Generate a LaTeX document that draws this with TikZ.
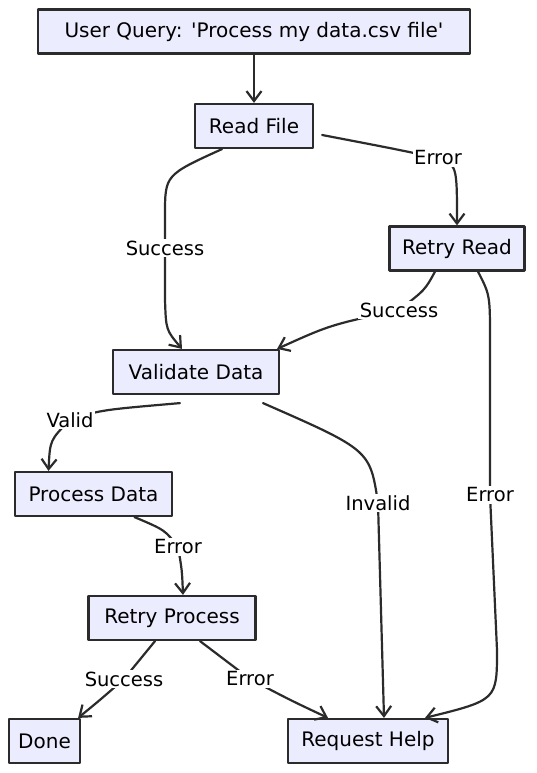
\documentclass[tikz,border=0pt]{standalone}
\usepackage{fontspec}
\setmainfont{DejaVu Sans}
\usetikzlibrary{arrows.meta}
\definecolor{boxfill}{HTML}{ECECFF}
\definecolor{ink}{HTML}{2B2B2B}
\newcommand{\sq}{\textquotesingle}
\begin{document}
\begin{tikzpicture}[line cap=round,line join=round,>={Straight Barb[length=10pt,width=15pt]},x=1pt,y=-1pt,
  box/.style={draw=ink,fill=boxfill,line width=2.2pt,minimum height=44pt,font=\fontsize{20}{23}\selectfont},
  lbl/.style={fill=white,inner sep=1.5pt,font=\fontsize{19.5}{22}\selectfont},
  link/.style={->,draw=ink,line width=2.2pt}]
\useasboundingbox (0,0) rectangle (536,773);
% boxes
\node[box,minimum width=432pt] (query) at (254,31.5) {User Query: \sq Process my data.csv file\sq};
\node[box,minimum width=118pt] (readfile) at (254,126) {Read File};
\node[box,minimum width=135pt] (retryread) at (457,248.5) {Retry Read};
\node[box,minimum width=166pt] (validate) at (196,372) {Validate Data};
\node[box,minimum width=157pt] (process) at (93.5,494) {Process Data};
\node[box,minimum width=167pt] (retryproc) at (172,618) {Retry Process};
\node[box,minimum width=71pt] (done) at (44.5,741) {Done};
\node[box,minimum width=160pt] (reqhelp) at (368,741) {Request Help};
% label spots
\coordinate (errA) at (438,158);
\coordinate (sucA) at (165,248);
\coordinate (sucB) at (399,310);
\coordinate (errB) at (490,495);
\coordinate (valid) at (70,420);
\coordinate (invalid) at (378,503);
\coordinate (errC) at (178,547);
\coordinate (sucC) at (124,679);
\coordinate (errD) at (250,679);
% links
\draw[link] (query) -- (readfile);
\draw[link] ([xshift=8pt,yshift=-9pt]readfile.east) .. controls (390,148) .. (errA)
  .. controls (457,165) .. (retryread.north);
\draw[link] ([xshift=-32pt]readfile.south) .. controls (165,175) .. (165,215) -- (sucA)
  -- (165,300) .. controls (166,330) .. ([xshift=-14pt]validate.north);
\draw[link] ([xshift=-22pt]retryread.south) .. controls (425,290) .. (sucB)
  .. controls (330,325) .. ([xshift=-3pt]validate.north east);
\draw[link] ([xshift=21pt]retryread.south) .. controls (490,295) .. (490,340) -- (errB)
  -- (497,650) .. controls (497,700) .. ([xshift=57pt]reqhelp.north);
\draw[link] ([xshift=-16pt,yshift=-8pt]validate.south) .. controls (100,410) .. (valid)
  .. controls (50,440) .. ([xshift=-45pt]process.north);
\draw[link] ([xshift=67pt,yshift=-8pt]validate.south) .. controls (370,450) .. (invalid)
  -- ([xshift=16pt]reqhelp.north);
\draw[link] ([xshift=41pt]process.south) .. controls (165,530) .. (errC)
  .. controls (182,570) .. ([xshift=11pt]retryproc.north);
\draw[link] ([xshift=-17pt]retryproc.south) .. controls (140,660) .. (sucC)
  .. controls (100,700) .. ([xshift=-3pt]done.north east);
\draw[link] ([xshift=28pt]retryproc.south) .. controls (225,660) .. (errD)
  .. controls (290,700) .. ([xshift=-40pt]reqhelp.north);
% labels
\node[lbl] at (errA) {Error};
\node[lbl] at (sucA) {Success};
\node[lbl] at (sucB) {Success};
\node[lbl] at (errB) {Error};
\node[lbl] at (valid) {Valid};
\node[lbl] at (invalid) {Invalid};
\node[lbl] at (errC) {Error};
\node[lbl] at (sucC) {Success};
\node[lbl] at (errD) {Error};
\end{tikzpicture}
\end{document}
